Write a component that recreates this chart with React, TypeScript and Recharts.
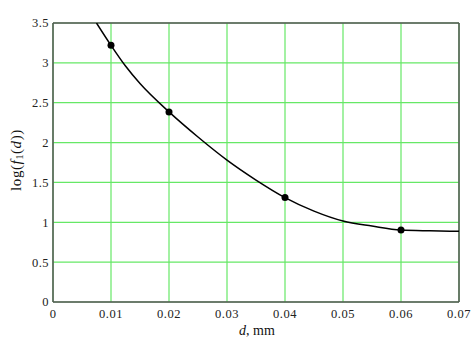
import { LineChart, Line, XAxis, YAxis, CartesianGrid, ReferenceLine } from 'recharts'

// d, mm  and  log(f1(d))
const dValues = [0.0075, 0.01, 0.0125, 0.015, 0.02, 0.025, 0.03, 0.035, 0.04, 0.045, 0.05, 0.055, 0.06, 0.065, 0.07]
const logF1 = [3.5, 3.22, 2.96, 2.74, 2.385, 2.07, 1.78, 1.53, 1.31, 1.14, 1.016, 0.953, 0.903, 0.893, 0.887]
const markerD = [0.01, 0.02, 0.04, 0.06]

const xTicks = [0, 0.01, 0.02, 0.03, 0.04, 0.05, 0.06, 0.07]
const yTicks = [0, 0.5, 1, 1.5, 2, 2.5, 3, 3.5]

const data = dValues.map((d, i) => ({ d, logf: logF1[i] }))

const serif = '"Liberation Serif", "Times New Roman", serif'
const axisColor = '#555'
const gridColor = '#66e866'

function MarkerDot(props: any) {
  const { cx, cy, payload } = props
  if (!markerD.includes(payload.d)) return <g key={props.key} />
  return <circle key={props.key} cx={cx} cy={cy} r={3.5} fill="#000" />
}

export default function App() {
  return (
    <div style={{ position: 'absolute', left: 0, top: 0, background: '#fff' }}>
      <LineChart width={474} height={340} data={data} margin={{ top: 23, right: 15, bottom: 0, left: 0 }}>
        <CartesianGrid stroke={gridColor} strokeWidth={1.2} horizontalValues={yTicks} verticalValues={xTicks} />
        <XAxis
          dataKey="d"
          type="number"
          domain={[0, 0.07]}
          ticks={xTicks}
          height={38}
          tickLine={false}
          tickSize={0}
          tickMargin={7}
          stroke={axisColor}
          strokeWidth={1.5}
          tick={{ fill: '#222', fontSize: 12.5, fontFamily: serif, letterSpacing: 0.5 }}
          label={{
            content: () => (
              <text x={257} y={335} textAnchor="middle" fontFamily={serif} fontSize={14} fill="#111">
                <tspan fontStyle="italic">d</tspan>, mm
              </text>
            ),
          }}
        />
        <YAxis
          type="number"
          domain={[0, 3.5]}
          ticks={yTicks}
          width={53}
          tickLine={false}
          tickSize={0}
          tickMargin={4}
          stroke={axisColor}
          strokeWidth={1.5}
          allowDataOverflow
          tick={{ fill: '#222', fontSize: 12.5, fontFamily: serif, letterSpacing: 0.5 }}
          label={{
            content: () => (
              <text
                x={16}
                y={160}
                transform="rotate(-90, 16, 160)"
                textAnchor="middle"
                dominantBaseline="central"
                fontFamily={serif}
                fontSize={15}
                fill="#111"
                letterSpacing={0.6}
              >
                log(<tspan fontStyle="italic">f</tspan>
                <tspan fontSize={10} dy={3}>1</tspan>
                <tspan dy={-3}>(</tspan>
                <tspan fontStyle="italic">d</tspan>))
              </text>
            ),
          }}
        />
        <ReferenceLine y={3.5} stroke={axisColor} strokeWidth={1.5} />
        <ReferenceLine x={0.07} stroke={axisColor} strokeWidth={1.5} />
        <Line
          type="monotone"
          dataKey="logf"
          stroke="#000"
          strokeWidth={1.5}
          dot={MarkerDot}
          activeDot={false}
          isAnimationActive={false}
        />
      </LineChart>
    </div>
  )
}
